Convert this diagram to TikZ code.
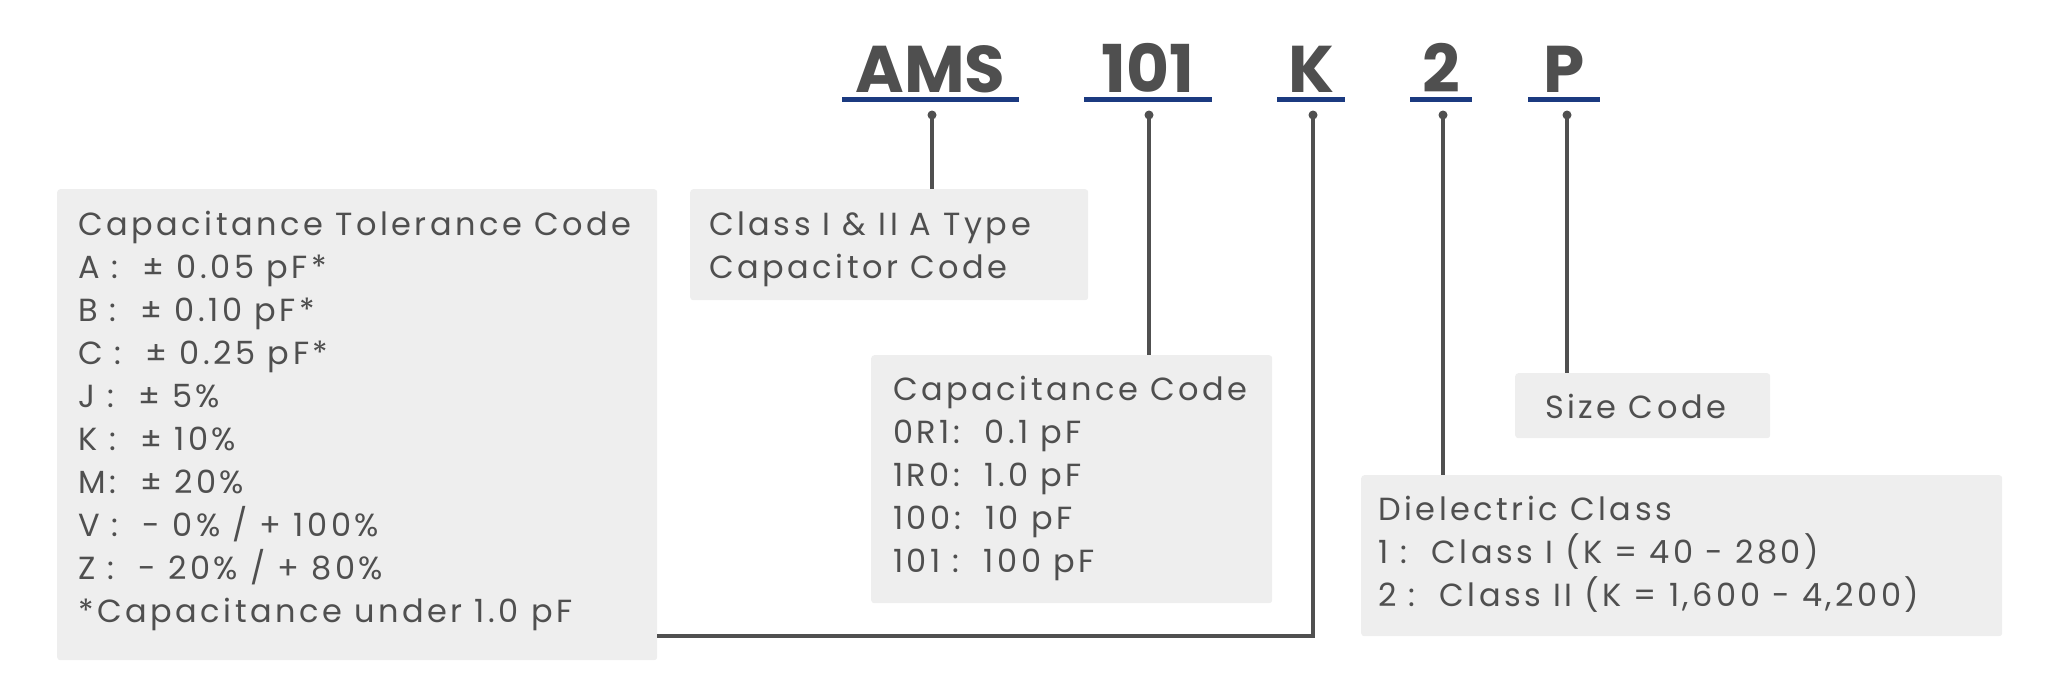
\documentclass[tikz,border=0pt]{standalone}
\usepackage{fontspec}
\setmainfont{Poppins}
\newfontfamily\lblfont[LetterSpace=11]{Poppins}
\definecolor{txt}{HTML}{4F4F4F}
\definecolor{boxc}{HTML}{EEEEEE}
\definecolor{navy}{HTML}{1B3A80}
\definecolor{ln}{HTML}{505050}
\tikzset{
  box/.style={fill=boxc, rounded corners=3pt, inner sep=0pt, anchor=north west},
  ltxt/.style={anchor=base west, inner sep=0pt, text=txt, font=\lblfont\fontsize{32}{34}\selectfont},
  code/.style={anchor=base, inner sep=0pt, text=txt, font=\fontsize{66}{70}\selectfont\bfseries},
  uline/.style={navy, line width=5pt},
  conn/.style={ln, line width=3.5pt},
  dot/.style={circle, fill=ln, inner sep=0pt, minimum size=9pt}
}
\begin{document}
\begin{tikzpicture}[x=1pt,y=-1pt]
\useasboundingbox (0,0) rectangle (2048,689);
% boxes
\node[box, minimum width=600pt, minimum height=471pt] (tolbox) at (57,189) {};
\node[box, minimum width=398pt, minimum height=111pt] (clsbox) at (690,189) {};
\node[box, minimum width=401pt, minimum height=248pt] (capbox) at (871,355) {};
\node[box, minimum width=255pt, minimum height=65pt] (sizebox) at (1515,373) {};
\node[box, minimum width=641pt, minimum height=161pt] (dielbox) at (1361,475) {};
% codes
\node[code] (ams) at (930.5,92) {AMS};
\node[code] (c101) at (1148,92) {101};
\node[code] (ck) at (1311,92) {K};
\node[code] (c2) at (1441,92) {2};
\node[code] (cp) at (1564,92) {P};
\draw[uline] (842,99) -- (1019,99);
\draw[uline] (1084,99) -- (1212,99);
\draw[uline] (1277,99) -- (1345,99);
\draw[uline] (1410,99) -- (1472,99);
\draw[uline] (1528,99) -- (1600,99);
% dots
\node[dot] (d1) at (932,115) {};
\node[dot] (d2) at (1149,115) {};
\node[dot] (d3) at (1313,115) {};
\node[dot] (d4) at (1443,115) {};
\node[dot] (d5) at (1567,115) {};
\coordinate (kc) at (1313,636);
\draw[conn] (d1.center) -- (d1.center |- clsbox.north);
\draw[conn] (d2.center) -- (d2.center |- capbox.north);
\draw[conn] (d3.center) -- (kc) -- (kc -| tolbox.east);
\draw[conn] (d4.center) -- (d4.center |- dielbox.north);
\draw[conn] (d5.center) -- (d5.center |- sizebox.north);
% texts
\foreach \t [count=\i] in {Capacitance Tolerance Code, A :\ \ ± 0.05 pF*, B :\ \ ± 0.10 pF*, C :\ \ ± 0.25 pF*, J :\ \ ± 5\%, K :\ \ ± 10\%, M:\ \ ± 20\%, V :\ \ - 0\% / + 100\%, Z :\ \ - 20\% / + 80\%, *Capacitance under 1.0 pF}
  \node[ltxt] (tol-\i) at (78,{235+43*(\i-1)}) {\t};
\foreach \t [count=\i] in {Class I \& II A Type, Capacitor Code}
  \node[ltxt] (cls-\i) at (709,{235+43*(\i-1)}) {\t};
\foreach \t [count=\i] in {Capacitance Code, 0R1:\ \ 0.1 pF, 1R0:\ \ 1.0 pF, 100:\ \ 10 pF, 101 :\ \ 100 pF}
  \node[ltxt] (cap-\i) at (893,{400+43*(\i-1)}) {\t};
\node[ltxt] (size-1) at (1545,418) {Size Code};
\foreach \t [count=\i] in {Dielectric Class, 1 :\ \ Class I (K = 40 - 280), {2 :\ \ Class II (K = 1,600 - 4,200)}}
  \node[ltxt] (diel-\i) at (1378,{520+43*(\i-1)}) {\t};
\end{tikzpicture}
\end{document}
